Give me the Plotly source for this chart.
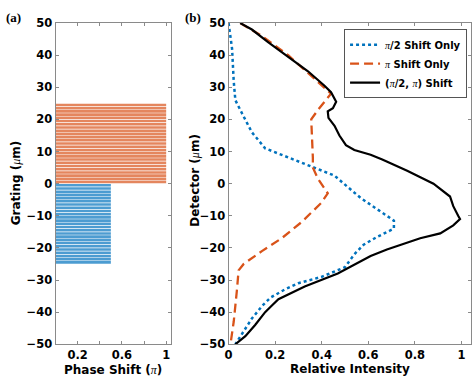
import plotly.graph_objects as go

# ---------------- data ----------------
# (a) grating phase profile
orange_pos = [0.5, 1.5, 2.5, 3.5, 4.5, 5.5, 6.5, 7.5, 8.5, 9.5, 10.5, 11.5, 12.5,
              13.5, 14.5, 15.5, 16.5, 17.5, 18.5, 19.5, 20.5, 21.5, 22.5, 23.5, 24.5]
orange_phase = [1, 1, 1, 1, 1, 1, 1, 1, 1, 1, 1, 1, 1, 1, 1, 1, 1, 1, 1, 1, 1, 1, 1, 1, 1]
blue_pos = [-0.5, -1.5, -2.5, -3.5, -4.5, -5.5, -6.5, -7.5, -8.5, -9.5, -10.5, -11.5, -12.5,
            -13.5, -14.5, -15.5, -16.5, -17.5, -18.5, -19.5, -20.5, -21.5, -22.5, -23.5, -24.5]
blue_phase = [0.5, 0.5, 0.5, 0.5, 0.5, 0.5, 0.5, 0.5, 0.5, 0.5, 0.5, 0.5, 0.5,
              0.5, 0.5, 0.5, 0.5, 0.5, 0.5, 0.5, 0.5, 0.5, 0.5, 0.5, 0.5]

# (b) detector intensity profiles
half_y = [50, 42, 32, 26, 22, 16, 11, 9, 7, 5.5, 2.5, -1, -4.5, -8, -11.5, -14,
          -16.5, -19, -22, -26, -29, -31, -33, -35.5, -38, -42, -46, -50]
half_x = [0.0, 0.015, 0.022, 0.029, 0.057, 0.10, 0.157, 0.228, 0.299, 0.355, 0.455,
          0.511, 0.568, 0.639, 0.71, 0.71, 0.64, 0.58, 0.54, 0.50, 0.40, 0.30, 0.24,
          0.18, 0.145, 0.10, 0.065, 0.029]

pi_y = [50, 46, 40, 33.5, 28, 23, 20, 8, 5, 1.5, -3, -6, -12, -17, -21, -25, -27,
        -33, -43, -50]
pi_x = [0.05, 0.143, 0.256, 0.355, 0.44, 0.384, 0.355, 0.362, 0.362, 0.384, 0.426,
        0.398, 0.313, 0.228, 0.143, 0.065, 0.043, 0.036, 0.022, 0.008]

both_y = [50, 48, 44, 39.5, 35, 30.5, 28.5, 25.5, 23.5, 22.5, 20.5, 18, 15, 12, 10.5,
          9, 7.5, 4, 0, -4, -7, -10, -11, -13, -15.5, -17, -19, -20.5, -22.5, -24,
          -28, -32, -36, -38, -40, -44, -47.5, -50]
both_x = [0.05, 0.10, 0.171, 0.256, 0.341, 0.412, 0.44, 0.462, 0.448, 0.426, 0.429,
          0.455, 0.476, 0.504, 0.54, 0.61, 0.66, 0.767, 0.88, 0.951, 0.965, 0.986,
          0.994, 0.965, 0.909, 0.823, 0.738, 0.68, 0.61, 0.57, 0.469, 0.327, 0.214,
          0.185, 0.157, 0.114, 0.072, 0.029]

y_ticks = [-50, -40, -30, -20, -10, 0, 10, 20, 30, 40, 50]
a_xticks = [0.2, 0.4, 0.6, 0.8, 1]
a_xticktext = ["0.2", "", "0.6", "", "1"]
b_xticks = [0, 0.2, 0.4, 0.6, 0.8, 1]
b_xticktext = ["0", "0.2", "0.4", "0.6", "0.8", "1"]

# ---------------- figure ----------------
W, H = 474, 384
FONT = "DejaVu Sans"
AX = "#8a8a8a"

fig = go.Figure()

fig.add_trace(go.Bar(x=orange_phase, y=orange_pos, orientation="h", width=0.8,
                     marker=dict(color="rgba(217,83,25,0.7)", line=dict(width=0)),
                     showlegend=False, xaxis="x", yaxis="y"))
fig.add_trace(go.Bar(x=blue_phase, y=blue_pos, orientation="h", width=0.8,
                     marker=dict(color="rgba(0,114,189,0.7)", line=dict(width=0)),
                     showlegend=False, xaxis="x", yaxis="y"))

SERIF = "font-family:'Liberation Serif';font-style:italic;font-weight:normal"
fig.add_trace(go.Scatter(x=half_x, y=half_y, mode="lines",
                         name=f"<span style=\"{SERIF}\">π</span>/2 Shift Only",
                         line=dict(color="#0072BD", width=2.5, dash="dot"),
                         xaxis="x2", yaxis="y2"))
fig.add_trace(go.Scatter(x=pi_x, y=pi_y, mode="lines",
                         name=f"<span style=\"{SERIF}\">π</span> Shift Only",
                         line=dict(color="#D95319", width=2.3, dash="9px,5px"),
                         xaxis="x2", yaxis="y2"))
fig.add_trace(go.Scatter(x=both_x, y=both_y, mode="lines",
                         name=f"(<span style=\"{SERIF}\">π</span>/2, <span style=\"{SERIF}\">π</span>) Shift",
                         line=dict(color="black", width=2.2),
                         xaxis="x2", yaxis="y2"))

ydom = [1 - 350 / H, 1 - 16.7 / H]
tickfont = dict(family=FONT, size=11.5, color="black", weight="bold")
common = dict(showgrid=False, zeroline=False, showline=True, linecolor=AX, linewidth=1,
              mirror="ticks", ticks="inside", ticklen=3, tickcolor=AX, tickfont=tickfont)

fig.update_layout(
    width=W, height=H,
    margin=dict(l=0, r=0, t=0, b=0),
    paper_bgcolor="white", plot_bgcolor="white",
    barmode="overlay",
    xaxis=dict(domain=[52 / W, 168 / W], range=[0, 1.04], tickvals=a_xticks,
               ticktext=a_xticktext, anchor="y", **common),
    yaxis=dict(domain=ydom, range=[-50, 50], tickvals=y_ticks, anchor="x", **common),
    xaxis2=dict(domain=[226.5 / W, 470.7 / W], range=[0, 1.04], tickvals=b_xticks,
                ticktext=b_xticktext, anchor="y2", **common),
    yaxis2=dict(domain=ydom, range=[-50, 50], tickvals=y_ticks, anchor="x2", **common),
    legend=dict(x=467 / W, y=1 - 23 / H, xanchor="right", yanchor="top",
                bgcolor="white", bordercolor="#555555", borderwidth=1,
                font=dict(family=FONT, size=10, color="black", weight="bold"),
                itemwidth=30, tracegroupgap=0),
)

MU = "<span style=\"font-family:'Liberation Serif';font-style:italic;font-weight:normal\">μ</span>"
PI = "<span style=\"font-family:'Liberation Serif';font-style:italic;font-weight:normal\">π</span>"
tfont = dict(family=FONT, size=12, color="black", weight="bold")
fig.add_annotation(text=f"Grating ({MU}m)", xref="paper", yref="paper",
                   x=12 / W, y=1 - 182 / H, textangle=-90, showarrow=False,
                   xanchor="center", yanchor="middle", font=tfont)
fig.add_annotation(text=f"Detector ({MU}m)", xref="paper", yref="paper",
                   x=193 / W, y=1 - 180 / H, textangle=-90, showarrow=False,
                   xanchor="center", yanchor="middle", font=tfont)
fig.add_annotation(text=f"Phase Shift ({PI})", xref="paper", yref="paper",
                   x=110 / W, y=1 - 377 / H, showarrow=False,
                   xanchor="center", yanchor="middle", font=tfont)
fig.add_annotation(text="Relative Intensity", xref="paper", yref="paper",
                   x=348.6 / W, y=1 - 376 / H, showarrow=False,
                   xanchor="center", yanchor="middle", font=tfont)
lfont = dict(family="Liberation Serif", size=13, color="black", weight="bold")
fig.add_annotation(text="(a)", xref="paper", yref="paper", x=0, y=1 - 1 / H,
                   showarrow=False, xanchor="left", yanchor="top", font=lfont)
fig.add_annotation(text="(b)", xref="paper", yref="paper", x=181 / W, y=1 - 1 / H,
                   showarrow=False, xanchor="left", yanchor="top", font=lfont)

fig.write_html("out.html", config={"displayModeBar": False},
               post_script="document.body.style.margin='0';document.body.style.overflow='hidden';")
